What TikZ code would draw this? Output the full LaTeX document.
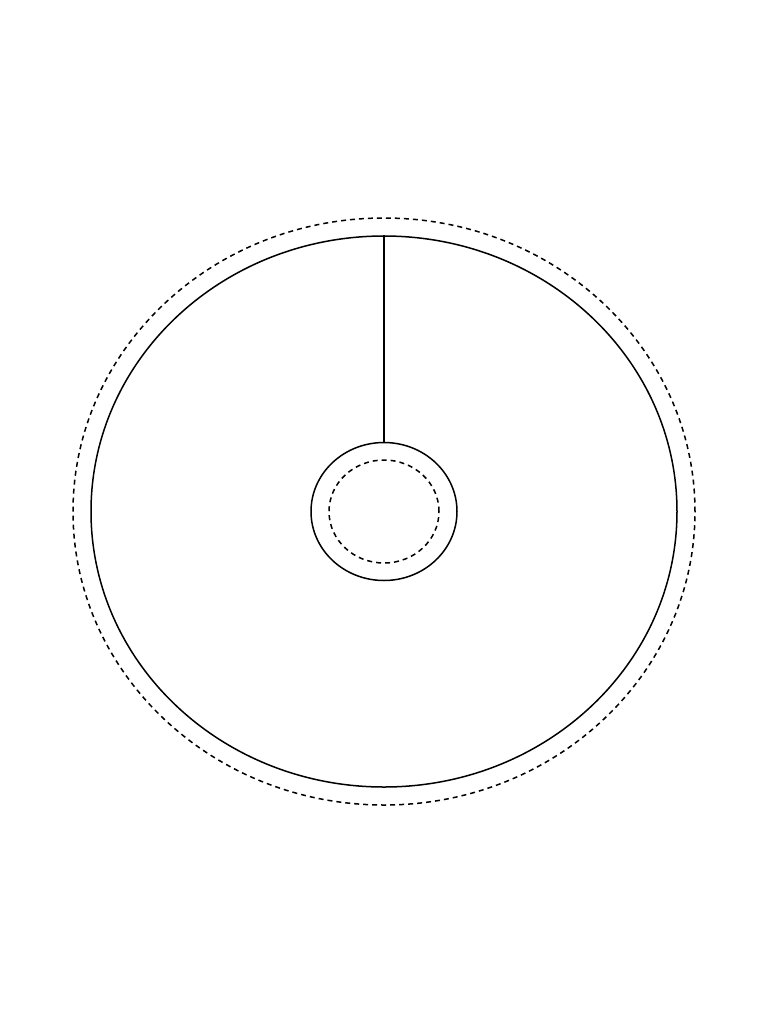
\documentclass[tikz,border=0pt]{standalone}
\usetikzlibrary{shapes.geometric}
\begin{document}
\begin{tikzpicture}[x=0.5pt,y=-0.5pt,
  ring/.style={ellipse,draw,inner sep=0pt,line width=0.75pt},
  dashring/.style={ring,dash pattern=on 2.5pt off 2pt}]
\useasboundingbox (0,0) rectangle (768,1024);
\node[dashring,minimum width=311pt,minimum height=293.5pt] (dout) at (384,511.5) {};
\node[ring,minimum width=293pt,minimum height=275.5pt] (out) at (384,511.5) {};
\node[ring,minimum width=73pt,minimum height=69pt] (in) at (384,511.5) {};
\node[dashring,minimum width=55pt,minimum height=51.5pt] (din) at (384,511.5) {};
\draw[line width=0.65pt] (out.north) -- (in.north);
\end{tikzpicture}
\end{document}
